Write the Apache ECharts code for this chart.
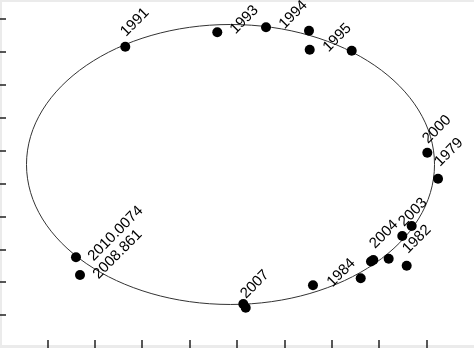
<!DOCTYPE html>
<html>
<head>
<meta charset="utf-8">
<script src="https://cdn.jsdelivr.net/npm/echarts@6/dist/echarts.min.js"></script>
<style>
  html, body { margin: 0; padding: 0; background: #fff; }
  #chart { width: 474px; height: 348px; background: #fff;
           box-shadow: inset 2px 2px 0 #ebebeb, inset 0 -3px 0 #ebebeb; }
</style>
</head>
<body>
<div id="chart"></div>
<script>
// ---- data (arbitrary axis units, no tick labels shown) ----
const pointLabels = ['1991','1993','1994','','1995','','2000','1979','','2003','1982','','2004','','','1984','2007','','2010.0074','2008.861'];
const pointX = [2.643,4.584,5.612,6.519,6.534,7.420,9.015,9.241,8.686,8.487,8.580,8.200,7.876,7.827,7.610,6.603,5.133,5.184,1.603,1.688];
const pointY = [9.158,9.596,9.748,9.644,9.067,9.036,5.936,5.146,3.708,3.404,2.502,2.714,2.675,2.629,2.119,1.906,1.337,1.225,2.757,2.219];
// fitted ellipse: centre and semi-axes (data units)
const ellipseCenter = [4.863, 5.578];
const ellipseRadii = [4.304, 4.255];
// tick positions
const bottomTicks = [1,2,3,4,5,6,7,8,9];
const topTicks = [1,3,5,7,9];
const leftTicks = [1,2,3,4,5,6,7,8,9,10];
const rightTicks = [2,4,6,8,10];

// ---- styling: label offsets (in rotated text frame, px) ----
const labelOffsets = [[7.4,-10.4],[11.3,10.2],[11.5,10.4],null,[11.3,11.0],null,[6.6,-9.7],[9.7,-10.9],null,[7.6,-9.2],[9.2,-11.4],null,[9.0,-10.6],null,null,[12.2,11.1],[5.4,-5.7],null,[9.4,11.1],[9.9,12.0]];

const chart = echarts.init(document.getElementById('chart'), null, {renderer: 'canvas'});
const tickStyle = { color: '#222', width: 1.5 };
function axisBase(extra) {
  return Object.assign({
    type: 'value',
    axisLine: { show: false },
    axisLabel: { show: false },
    splitLine: { show: false }
  }, extra);
}
const scatterData = pointX.map((x, i) => {
  const item = { value: [x, pointY[i]] };
  if (pointLabels[i]) {
    item.label = { show: true, formatter: pointLabels[i], offset: labelOffsets[i] };
  } else {
    item.label = { show: false };
  }
  return item;
});

chart.setOption({
  backgroundColor: 'transparent',
  animation: false,
  grid: { left: 0, right: 0, top: 0, bottom: 0, containLabel: false },
  xAxis: [
    axisBase({ position: 'bottom', min: 0, max: 10,
      axisTick: { show: true, inside: true, length: 8, lineStyle: tickStyle, customValues: bottomTicks } }),
    axisBase({ position: 'top', min: 0, max: 10,
      axisTick: { show: true, inside: true, length: 7, lineStyle: tickStyle, customValues: topTicks } })
  ],
  yAxis: [
    axisBase({ position: 'left', min: 0, max: 348 / 32.9,
      axisTick: { show: true, inside: true, length: 6, lineStyle: tickStyle, customValues: leftTicks } }),
    axisBase({ position: 'right', min: 0, max: 348 / 32.9,
      axisTick: { show: true, inside: true, length: 4, lineStyle: tickStyle, customValues: rightTicks } })
  ],
  series: [
    {
      type: 'custom',
      silent: true,
      data: [[ellipseCenter[0], ellipseCenter[1], ellipseRadii[0], ellipseRadii[1]]],
      renderItem: function (params, api) {
        const c = api.coord([api.value(0), api.value(1)]);
        const s = api.size([api.value(2), api.value(3)]);
        return {
          type: 'ellipse',
          shape: { cx: c[0], cy: c[1], rx: s[0], ry: s[1] },
          style: { fill: 'none', stroke: '#333', lineWidth: 1 }
        };
      },
      z: 1
    },
    {
      type: 'scatter',
      silent: true,
      symbol: 'circle',
      symbolSize: 10,
      itemStyle: { color: '#000', opacity: 1 },
      label: {
        show: true, position: 'inside', rotate: 45,
        align: 'left', verticalAlign: 'middle',
        color: '#000', fontSize: 15, fontFamily: 'Liberation Sans, Arial, sans-serif'
      },
      data: scatterData,
      z: 2
    }
  ]
});
</script>
</body>
</html>
